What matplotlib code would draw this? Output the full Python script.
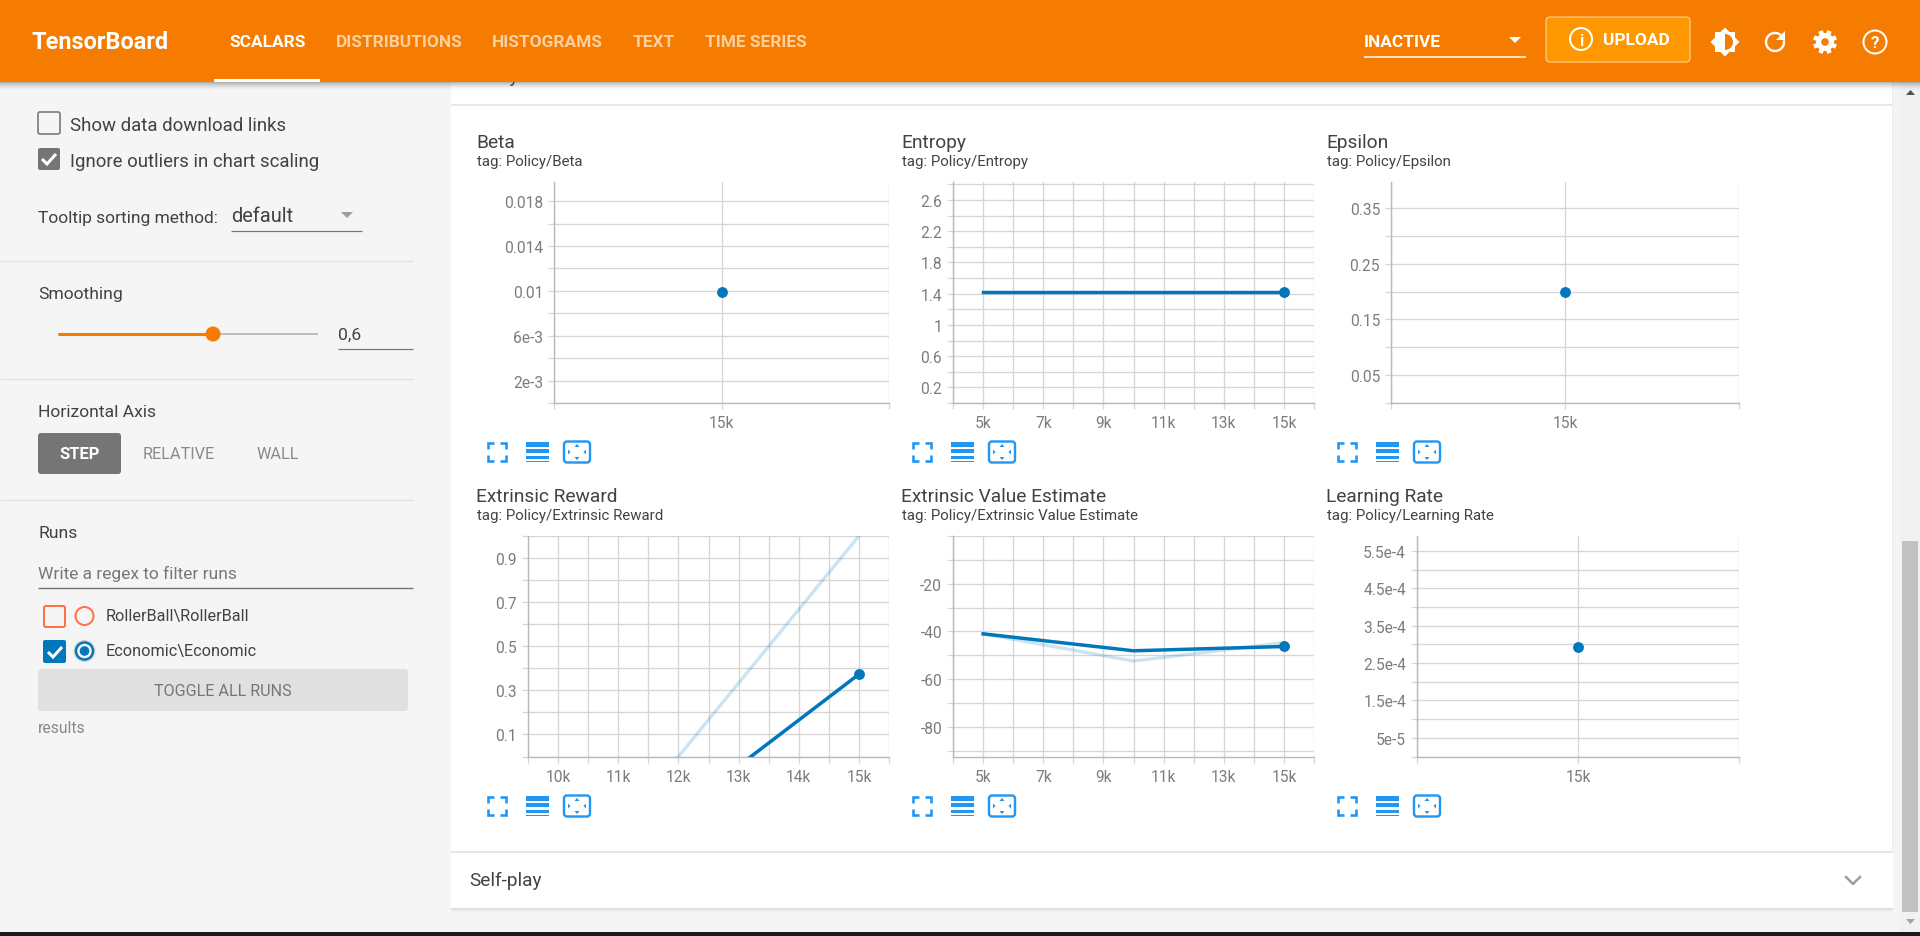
import numpy as np
import matplotlib
matplotlib.use("Agg")
import matplotlib.pyplot as plt
import matplotlib.patches as patches

plt.rcParams['font.family'] = ['Roboto', 'DejaVu Sans']

# chart values
beta_steps = [15000]
beta_vals = [0.0099]
entropy_steps = [5000, 10000, 15000]
entropy_vals = [1.418, 1.418, 1.418]
epsilon_steps = [15000]
epsilon_vals = [0.199]
reward_steps = [10000, 15000]
reward_raw = [-0.667, 1.0]
reward_smooth = [-0.667, 0.373]
value_steps = [5000, 10000, 15000]
value_raw = [-41.0, -52.4, -44.7]
value_smooth = [-41.0, -48.1, -46.3]
lr_steps = [15000]
lr_vals = [2.94e-4]

# ticks, labels go on every other tick
beta_yticks = [0, 0.002, 0.004, 0.006, 0.008, 0.01, 0.012, 0.014, 0.016, 0.018]
beta_ylabels = ['', '2e-3', '', '6e-3', '', '0.01', '', '0.014', '', '0.018']
entropy_yticks = [0, 0.2, 0.4, 0.6, 0.8, 1, 1.2, 1.4, 1.6, 1.8, 2, 2.2, 2.4, 2.6, 2.8]
entropy_ylabels = ['', '0.2', '', '0.6', '', '1', '', '1.4', '', '1.8', '', '2.2', '', '2.6', '']
epsilon_yticks = [0, 0.05, 0.1, 0.15, 0.2, 0.25, 0.3, 0.35]
epsilon_ylabels = ['', '0.05', '', '0.15', '', '0.25', '', '0.35']
reward_yticks = [0, 0.1, 0.2, 0.3, 0.4, 0.5, 0.6, 0.7, 0.8, 0.9, 1.0]
reward_ylabels = ['', '0.1', '', '0.3', '', '0.5', '', '0.7', '', '0.9', '']
value_yticks = [-90, -80, -70, -60, -50, -40, -30, -20, -10, 0]
value_ylabels = ['', '-80', '', '-60', '', '-40', '', '-20', '', '']
lr_yticks = [0, 5e-5, 1e-4, 1.5e-4, 2e-4, 2.5e-4, 3e-4, 3.5e-4, 4e-4, 4.5e-4, 5e-4, 5.5e-4]
lr_ylabels = ['', '5e-5', '', '1.5e-4', '', '2.5e-4', '', '3.5e-4', '', '4.5e-4', '', '5.5e-4']

single_xticks = [14000, 15000, 16000]
single_xlabels = ['', '15k', '']
wide_xticks = [4000, 5000, 6000, 7000, 8000, 9000, 10000, 11000, 12000, 13000, 14000, 15000, 16000]
wide_xlabels = ['', '5k', '', '7k', '', '9k', '', '11k', '', '13k', '', '15k', '']
reward_xticks = [9500, 10000, 10500, 11000, 11500, 12000, 12500, 13000, 13500, 14000, 14500, 15000, 15500]
reward_xlabels = ['', '10k', '', '11k', '', '12k', '', '13k', '', '14k', '', '15k', '']

tab_names = ['SCALARS', 'DISTRIBUTIONS', 'HISTOGRAMS', 'TEXT', 'TIME SERIES']

W, H = 1920, 937
ORANGE = '#f57c00'
BLUE = '#0077bb'
ICON = '#2196f3'

fig = plt.figure(figsize=(W / 100, H / 100), dpi=100, facecolor='#f5f5f5')
ui = fig.add_axes([0, 0, 1, 1], zorder=0)
ui.set_xlim(0, W)
ui.set_ylim(H, 0)
ui.axis('off')


def txt(x, y, s, px, color='#424242', weight='normal', ha='left', z=5):
    ui.text(x, y + 1.8, s, fontsize=px * 0.72, color=color, weight=weight, ha=ha, va='center', zorder=z)


def box(x0, y0, x1, y1, fc, ec='none', lw=0, z=2, round=0):
    if round:
        p = patches.FancyBboxPatch((x0 + round, y0 + round), x1 - x0 - 2 * round, y1 - y0 - 2 * round,
                                   boxstyle='round,pad=%g,rounding_size=%g' % (round, round),
                                   fc=fc, ec=ec, lw=lw * 0.72, zorder=z)
    else:
        p = patches.Rectangle((x0, y0), x1 - x0, y1 - y0, fc=fc, ec=ec, lw=lw * 0.72, zorder=z)
    ui.add_patch(p)
    return p


def hline(x0, x1, y, color, lw=1.0, z=3):
    ui.plot([x0, x1], [y, y], color=color, lw=lw * 0.72, zorder=z, solid_capstyle='butt')


def tri(pts, color, z=5):
    ui.add_patch(patches.Polygon(pts, closed=True, fc=color, ec='none', zorder=z))


def circle(x, y, r, fc='none', ec='none', lw=0, z=5):
    ui.add_patch(patches.Circle((x, y), r, fc=fc, ec=ec, lw=lw * 0.72, zorder=z))


def check(x, y):
    ui.plot([x - 7, x - 2, x + 7], [y, y + 5, y - 5], color='white', lw=3 * 0.72, zorder=6,
            solid_capstyle='butt', solid_joinstyle='miter')


# cards
box(451, 82, 1892, 852, 'white', z=1)
hline(451, 1892, 105.5, '#e0e0e0', 1.5)
txt(470, 75.5, 'Policy', 18, '#424242', z=2)
box(451, 852, 1893, 854, '#e6e6e6', z=1)
box(451, 854, 1893, 909, 'white', z=1)
box(1892, 82, 1893, 852, '#ececec', z=1)
for i in range(5):
    box(451, 909 + i, 1893, 910 + i, '#000000', z=1).set_alpha(0.10 * (1 - i / 5) ** 2)
txt(469, 879.5, 'Self-play', 19, '#424242')
ui.plot([1846, 1853, 1860], [878, 885, 878], color='#9e9e9e', lw=2.5 * 0.72, zorder=3)

# scrollbar
box(1900, 82, 1920, 937, '#f1f1f1', z=1)
box(1902, 542, 1918, 913, '#c1c1c1', z=2)
tri([(1906, 96), (1915, 96), (1910.5, 91)], '#505050')
tri([(1906, 920), (1915, 920), (1910.5, 925)], '#a3a3a3')
box(0, 933, W, H, '#1a1a1a', z=8)

# header
box(0, 0, W, 82.5, ORANGE, z=8)
box(0, 0, W, 1, '#c8c8c8', z=8)
for i in range(9):
    box(0, 82.5 + i, W, 83.5 + i, '#000000', z=7).set_alpha(0.28 * (1 - i / 9) ** 2)
txt(32, 41, 'TensorBoard', 23.5, 'white', 'bold', z=9)
tab_x = [229, 336, 492, 633, 705]
for name, x in zip(tab_names, tab_x):
    txt(x, 40.5, name, 17.3, 'white' if name == 'SCALARS' else '#fcd0a0', 'bold', z=9)
box(214, 80, 320, 82.5, 'white', z=9)

txt(1364, 40.5, 'INACTIVE', 17.3, 'white', 'bold', z=9)
hline(1364, 1526, 58, 'white', 1.5, z=9)
tri([(1509, 38), (1521, 38), (1515, 44)], 'white', z=9)
box(1546, 18, 1690, 63, '#ff9800', '#ffd08a', 1.2, z=9, round=4)
circle(1581, 40, 11, ec='white', lw=2, z=10)
txt(1581, 39.5, 'i', 16, 'white', 'bold', ha='center', z=10)
txt(1603.5, 38.5, 'UPLOAD', 17.3, 'white', 'bold', z=10)

# brightness, refresh, settings, help
ui.add_patch(patches.RegularPolygon((1725, 43), 4, radius=14.5, orientation=0, fc='white', zorder=10))
ui.add_patch(patches.RegularPolygon((1725, 43), 4, radius=14.5, orientation=np.pi / 4, fc='white', zorder=10))
ui.add_patch(patches.Wedge((1725, 43), 8, -90, 90, fc=ORANGE, ec='none', zorder=11))
ui.add_patch(patches.Arc((1775, 43), 18, 18, theta1=-10, theta2=310, color='white', lw=2.4 * 0.72, zorder=10))
tri([(1785, 32), (1785, 41), (1776, 41)], 'white', z=10)
for a in np.arange(0, 360, 45) + 22.5:
    ca, sa = np.cos(np.radians(a)), np.sin(np.radians(a))
    ui.plot([1825, 1825 + 12 * ca], [43, 43 + 12 * sa], color='white', lw=4.5 * 0.72, zorder=10, solid_capstyle='butt')
circle(1825, 43, 9, fc='white', z=10)
circle(1825, 43, 3.8, fc=ORANGE, z=11)
circle(1875, 43, 11.5, ec='white', lw=2, z=10)
txt(1875, 41.5, '?', 17, 'white', 'bold', ha='center', z=10)

# sidebar
box(38, 113, 60, 135, 'none', '#757575', 1.6, z=3, round=2)
txt(70, 124, 'Show data download links', 18.7)
box(38, 149, 60, 171, '#757575', z=3, round=2)
check(49, 160)
txt(70, 160, 'Ignore outliers in chart scaling', 18.7)
txt(38, 217, 'Tooltip sorting method:', 17.4)
txt(231, 215, 'default', 20)
tri([(341, 213), (353, 213), (347, 219)], '#9e9e9e')
hline(231, 362, 232, '#757575', 1.2)
hline(0, 413, 262, '#e0e0e0', 1.2)
txt(38, 293, 'Smoothing', 17.5)
hline(58, 318, 335, '#bdbdbd', 2)
hline(58, 213, 335, ORANGE, 3)
circle(213, 335, 7.5, fc=ORANGE)
txt(338, 334, '0,6', 17.5)
hline(338, 413, 350, '#757575', 1.2)
hline(0, 413, 380, '#e0e0e0', 1.2)
txt(38, 411, 'Horizontal Axis', 17.5)
box(38, 434, 121, 475, '#757575', z=3, round=3)
txt(79.5, 453, 'STEP', 16.5, 'white', 'bold', ha='center')
txt(143, 453, 'RELATIVE', 16.3, '#8a8a8a')
txt(257, 453, 'WALL', 16.3, '#8a8a8a')
hline(0, 413, 501, '#e0e0e0', 1.2)
txt(38, 532, 'Runs', 17.5)
txt(38, 572, 'Write a regex to filter runs', 17.4, '#777777')
hline(38, 413, 589, '#757575', 1.4)
box(44, 607, 65, 628, 'none', '#ff7043', 2, z=3, round=2)
circle(84.5, 617, 9, ec='#ff7043', lw=2)
txt(106, 614.5, 'RollerBall\\RollerBall', 16.3)
box(43, 641, 66, 664, BLUE, z=3, round=2)
check(55, 653)
circle(84.5, 652, 11, fc='#d0d0d0', z=4)
circle(84.5, 652, 8.5, fc='#f5f5f5', ec=BLUE, lw=2.4)
circle(84.5, 652, 4.8, fc=BLUE, z=6)
txt(106, 650, 'Economic\\Economic', 16.3)
box(38, 670, 408, 712, '#e0e0e0', z=3, round=3)
txt(223, 690, 'TOGGLE ALL RUNS', 16.1, '#757575', ha='center')
txt(38, 727, 'results', 15.7, '#888888')


def chart_axes(x0, x1, y0, y1, xlim, ylim, xticks, xlabels, yticks, ylabels):
    ax = fig.add_axes([x0 / W, 1 - y1 / H, (x1 - x0) / W, (y1 - y0) / H], zorder=1)
    ax.set_facecolor('white')
    ax.set_xlim(*xlim)
    ax.set_ylim(*ylim)
    ax.set_xticks(xticks)
    ax.set_xticklabels(xlabels)
    ax.set_yticks(yticks)
    ax.set_yticklabels(ylabels)
    ax.grid(True, color='#d6d6d6', lw=0.95)
    ax.set_axisbelow(True)
    ax.tick_params(length=4.3, width=0.95, color='#d6d6d6', labelcolor='#7c7c7c', labelsize=11.2, pad=3.6)
    ax.tick_params(axis='x', pad=4.6)
    for side in ['top', 'right']:
        ax.spines[side].set_visible(False)
    for side in ['left', 'bottom']:
        ax.spines[side].set_color('#b8b8b8')
        ax.spines[side].set_linewidth(1.0)
    return ax


def chart_head(x, y, title, tag):
    txt(x - 1, y - 1, title, 19.2, '#424242')
    txt(x, y + 18, tag, 15, '#424242')


def chart_icons(x1, x2, x3, y):
    # fullscreen corners
    s, c = 9, 6
    for sx in (-1, 1):
        for sy in (-1, 1):
            ui.plot([x1 + sx * s, x1 + sx * s, x1 + sx * (s - c)],
                    [y + sy * (s - c), y + sy * s, y + sy * s],
                    color=ICON, lw=2.6 * 0.72, zorder=5, solid_capstyle='butt', solid_joinstyle='miter')
    # rows
    box(x2 - 11.5, y - 10, x2 + 11.5, y - 5, ICON, z=5)
    box(x2 - 11.5, y - 3, x2 + 11.5, y + 1, ICON, z=5)
    box(x2 - 11.5, y + 4, x2 + 11.5, y + 7, ICON, z=5)
    box(x2 - 11.5, y + 9, x2 + 11.5, y + 10, ICON, z=5)
    # fit domain
    box(x3 - 13, y - 10.5, x3 + 13, y + 10.5, 'none', ICON, 2.4, z=5, round=3)
    tri([(x3 - 2.5, y - 5), (x3 + 2.5, y - 5), (x3, y - 8)], ICON)
    tri([(x3 - 2.5, y + 5), (x3 + 2.5, y + 5), (x3, y + 8)], ICON)
    tri([(x3 - 9, y - 2.5), (x3 - 9, y + 2.5), (x3 - 6.5, y)], ICON)
    tri([(x3 + 9, y - 2.5), (x3 + 9, y + 2.5), (x3 + 6.5, y)], ICON)


def draw_line(ax, steps, smooth, raw=None):
    if raw is not None:
        ax.plot(steps, raw, color=BLUE, alpha=0.2, lw=2.4, zorder=3)
    ax.plot(steps, smooth, color=BLUE, lw=2.5, zorder=4)
    ax.plot(steps[-1:], smooth[-1:], 'o', color=BLUE, ms=7.8, mew=0, zorder=5, clip_on=False)


# top row
ax = chart_axes(554, 889, 183, 404, (14000, 16000), (0, 0.0197), single_xticks, single_xlabels, beta_yticks, beta_ylabels)
draw_line(ax, beta_steps, beta_vals)
ax = chart_axes(953, 1314, 183, 404, (4000, 16000), (0, 2.83), wide_xticks, wide_xlabels, entropy_yticks, entropy_ylabels)
draw_line(ax, entropy_steps, entropy_vals)
ax = chart_axes(1391, 1739, 183, 404, (14000, 16000), (0, 0.397), single_xticks, single_xlabels, epsilon_yticks, epsilon_ylabels)
draw_line(ax, epsilon_steps, epsilon_vals)

# bottom row
ax = chart_axes(528, 889, 537, 757.5, (9500, 15500), (0, 1.0), reward_xticks, reward_xlabels, reward_yticks, reward_ylabels)
draw_line(ax, reward_steps, reward_smooth, reward_raw)
ax = chart_axes(953, 1314, 537, 757.5, (4000, 16000), (-92.4, 0), wide_xticks, wide_xlabels, value_yticks, value_ylabels)
draw_line(ax, value_steps, value_smooth, value_raw)
ax = chart_axes(1417, 1739, 537, 757.5, (14000, 16000), (0, 5.9e-4), single_xticks, single_xlabels, lr_yticks, lr_ylabels)
draw_line(ax, lr_steps, lr_vals)

chart_head(477, 142, 'Beta', 'tag: Policy/Beta')
chart_head(902, 142, 'Entropy', 'tag: Policy/Entropy')
chart_head(1327, 142, 'Epsilon', 'tag: Policy/Epsilon')
chart_head(477, 496, 'Extrinsic Reward', 'tag: Policy/Extrinsic Reward')
chart_head(902, 496, 'Extrinsic Value Estimate', 'tag: Policy/Extrinsic Value Estimate')
chart_head(1327, 496, 'Learning Rate', 'tag: Policy/Learning Rate')

chart_icons(497, 537, 577, 453)
chart_icons(922, 962, 1002, 453)
chart_icons(1347, 1387, 1427, 453)
chart_icons(497, 537, 577, 807)
chart_icons(922, 962, 1002, 807)
chart_icons(1347, 1387, 1427, 807)

fig.savefig('out.png', dpi=100, facecolor=fig.get_facecolor())
